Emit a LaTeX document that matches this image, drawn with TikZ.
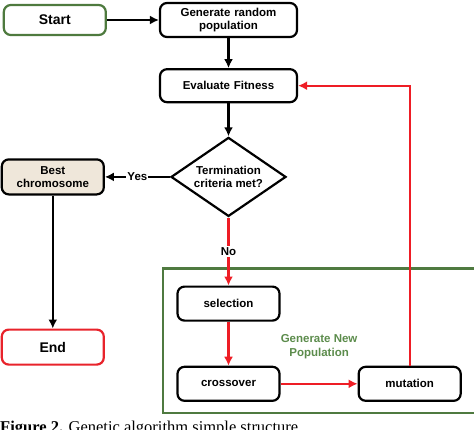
\documentclass[tikz,border=0pt]{standalone}
\usepackage{xcolor}
\usepackage{fontspec}
\setmainfont{Liberation Sans}
\newfontfamily\captionfont{Liberation Serif}
\usetikzlibrary{shapes.geometric, arrows.meta, positioning, fit, calc}
\definecolor{startgreen}{HTML}{4E7A3E}
\definecolor{boxgreen}{HTML}{4F7A40}
\definecolor{labelgreen}{HTML}{5C8C4C}
\definecolor{endred}{HTML}{E8232B}
\definecolor{loopred}{HTML}{EE1D25}
\definecolor{bestfill}{HTML}{EFE7DA}

\begin{document}
\begin{tikzpicture}[node distance=30pt, font=\fontsize{11.5}{13.5}\selectfont\bfseries,
        block/.style={rectangle, draw, line width=2.2pt, rounded corners=7pt, text width=125pt, align=center, minimum width=137pt, minimum height=34pt, inner sep=2pt},
        smallblock/.style={block, text width=92pt, minimum width=102pt},
        terminal/.style={smallblock, font=\fontsize{14}{16}\selectfont\bfseries},
        decision/.style={diamond, draw, line width=2.2pt, aspect=1.46, minimum width=115pt, minimum height=79pt, inner sep=0pt, align=center},
        line/.style={draw, -{Latex[length=9pt,width=9pt]}, line width=2.2pt},
        redline/.style={line, draw=loopred}]

        \useasboundingbox (-228.5pt,20pt) rectangle (245.5pt,-409pt);

        \node [block] (gen) {Generate random\\population};
        \node [terminal, left=52pt of gen, draw=startgreen, minimum height=30pt] (start) {Start};
        \node [block, below=30pt of gen, minimum height=33pt] (eval) {Evaluate Fitness};
        \node [decision, below=33pt of eval] (term) {Termination\\criteria met?};
        \node [smallblock, left=65pt of term, fill=bestfill, minimum height=35pt] (best) {Best\\chromosome};
        \node [terminal, below=133pt of best, draw=endred, minimum height=35pt] (finish) {End};
        \node [smallblock, below=68pt of term] (select) {selection};
        \node [smallblock, below=44pt of select] (cross) {crossover};
        \node [smallblock, right=77pt of cross] (mutate) {mutation};

        % Group box
        \coordinate (gtl) at ($(select.north west)+(-13pt,17pt)$);
        \coordinate (gbr) at ($(mutate.south east)+(13pt,-11pt)$);
        \node [draw=boxgreen, line width=2.2pt, inner sep=0pt, fit=(gtl)(gbr)] (newpop) {};
        \node [text=labelgreen, align=center] (newlabel) at ($(cross.north east)!.5!(mutate.north west)+(0,19pt)$) {Generate New\\Population};

        % Paths
        \path [line] (start) -- (gen);
        \path [line] (gen) -- (eval);
        \path [line] (eval) -- (term);
        \path [line] (term) -- node [fill=white, inner sep=1pt] {Yes} (best);
        \path [line] (best) -- (finish);
        \path [redline] (term) -- node [fill=white, inner sep=1pt, text=black] {No} (select);
        \path [redline] (select) -- (cross);
        \path [redline] (cross) -- (mutate);
        \path [redline] (mutate.north) |- (eval.east);

        % Caption, cut at the lower edge
        \begin{scope}
            \clip (-228.5pt,20pt) rectangle (245.5pt,-409pt);
            \node [anchor=base west, inner sep=0pt, font=\captionfont\fontsize{16.5}{18}\selectfont] (caption) at (-228.5pt,-412pt) {\textbf{Figure 2.} Genetic algorithm simple structure};
        \end{scope}

\end{tikzpicture}
\end{document}
